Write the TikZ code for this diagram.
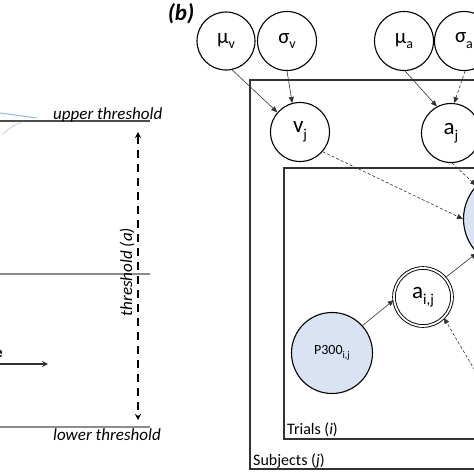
\documentclass[tikz,border=0pt]{standalone}
\usepackage{fontspec}
\setmainfont{Carlito}
\usetikzlibrary{arrows.meta}
\newcommand\fsz[1]{\fontsize{#1}{#1}\selectfont}
\newcommand\lsub[2]{\raisebox{-0.28em}{\fsz{#1}#2}}
\definecolor{nodeblue}{HTML}{DAE3F3}
\definecolor{traceblue}{HTML}{8FB8DE}
\tikzset{
  var/.style={circle, draw=black, line width=1.1pt, inner sep=0pt, font=\fsz{21}},
  obsvar/.style={var, fill=nodeblue},
  detvar/.style={var, double=white, line width=0.9pt, double distance=1.8pt},
  conn/.style={-{Triangle[length=6pt,width=5pt]}, line width=0.6pt, draw=black!80},
  dconn/.style={conn, densely dashed},
  plate/.style={draw=black!80, line width=1.1pt},
  platelbl/.style={anchor=base west, inner sep=0pt, font=\fsz{16}},
  thrline/.style={draw=black!45, line width=1.1pt},
  thrlbl/.style={inner sep=0pt, font=\fsz{17}\itshape},
  dasharrow/.style={{Stealth[length=6pt,width=6pt]}-{Stealth[length=6pt,width=6pt]}, line width=1.3pt, dash pattern=on 8pt off 6pt},
  harrow/.style={-{Stealth[length=6pt,width=6pt]}, line width=1.2pt, draw=black!80}
}
\begin{document}
\begin{tikzpicture}[x=1pt,y=-1pt]
\useasboundingbox (0,0) rectangle (474,474);
\clip (0,0) rectangle (474,474);
% ---------- panel (a) ----------
\draw[thrline, draw=black!70] (0,121) -- (150,121);
\draw[thrline] (0,274) -- (150,274);
\draw[thrline] (0,427) -- (150,427);
\draw[traceblue, line width=1pt] (0,113) -- (37,118);
\draw[black!20, line width=0.8pt] (22,122) .. controls (12,126) .. (3,134);
\node[thrlbl, anchor=base west] (upper) at (53,119) {upper threshold};
\node[thrlbl, anchor=base west] (lower) at (53,440) {lower threshold};
\coordinate (thrtop) at (138,132);
\coordinate (thrbot) at (138,420);
\draw[dasharrow] (thrtop) -- (thrbot);
\node[thrlbl, rotate=90] (thr) at (127,272) {threshold (a)};
\coordinate (hl) at (-10,364);
\coordinate (hr) at (48,364);
\draw[harrow] (hl) -- (hr);
\node[inner sep=0pt, anchor=base east, font=\fsz{15}\bfseries] (efrag) at (3,357) {e};
% ---------- panel (b) ----------
\node[inner sep=0pt, font=\fsz{23}\bfseries\itshape] (blab) at (181,14) {(b)};
\draw[plate] (250,80) rectangle (560,469);
\draw[plate] (284,168) rectangle (560,439);
\node[platelbl] (trials) at (287,434) {Trials (\textit{i})};
\node[platelbl] (subjects) at (253,465) {Subjects (\textit{j})};
\node[var, minimum size=58pt] (muv) at (226,41) {μ\lsub{14}{v}};
\node[var, minimum size=59pt] (sigv) at (287,41) {σ\lsub{14}{v}};
\node[var, minimum size=59pt] (mua) at (404,41) {μ\lsub{14}{a}};
\node[var, minimum size=59pt] (siga) at (464,41) {σ\lsub{14}{a}};
\node[var, minimum size=59pt, font=\fsz{23}] (vj) at (300,132) {v\lsub{15}{j}};
\node[var, minimum size=59pt, font=\fsz{23}] (aj) at (451,133) {a\lsub{15}{j}};
\node[obsvar, minimum size=97pt] (big) at (512,219) {};
\node[detvar, minimum size=58pt, font=\fsz{23}] (aij) at (423,297) {a\lsub{15}{i,j}};
\node[obsvar, minimum size=81pt, font=\fsz{14}] (p300) at (332,353) {P300\lsub{10}{i,j}};
\coordinate (lr) at (490,396);
\draw[conn] (muv.-78) -- (vj.139);
\draw[conn] (sigv.-90) -- (vj.105);
\draw[conn] (mua.-88) -- (aj.118);
\draw[dconn] (siga.-88) -- (aj.84);
\draw[dconn] (vj.-41) -- (big.180);
\draw[dconn] (aj.-88) -- (big.137);
\draw[conn] (p300.42) -- (aij.186);
\draw[conn] (aij.41) -- (big.224);
\draw[dconn] (lr) -- (aij.-45);
\end{tikzpicture}
\end{document}
